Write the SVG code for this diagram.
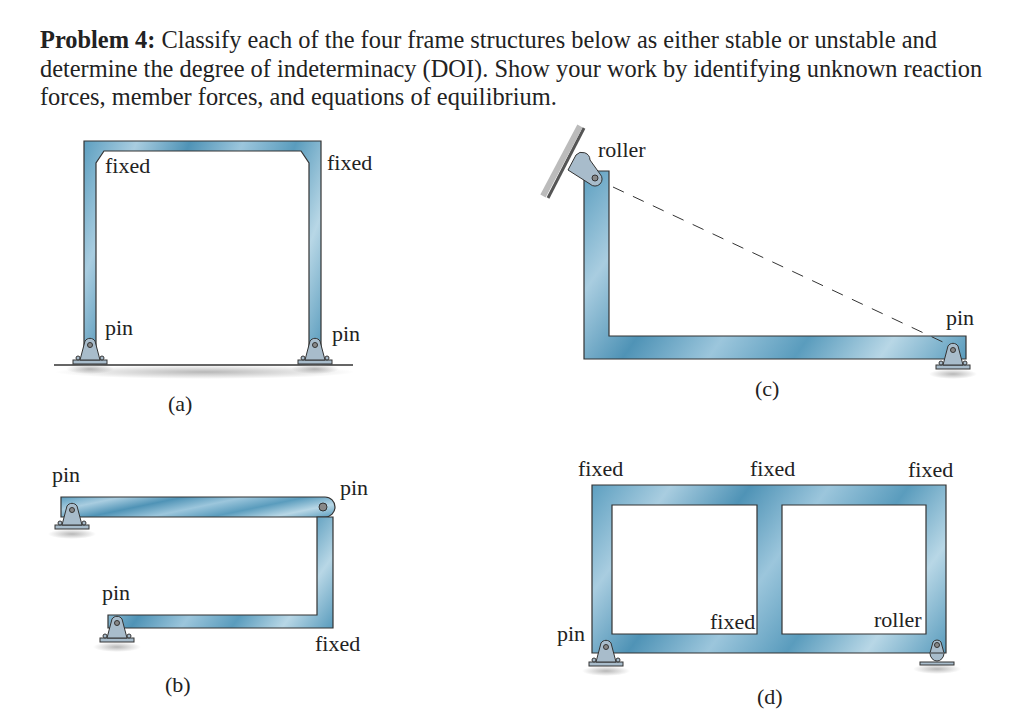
<svg xmlns="http://www.w3.org/2000/svg" width="1024" height="723" viewBox="0 0 1024 723">
<style>
text{font-family:"Liberation Serif","Times New Roman",serif;fill:#222}
.t{font-size:24.4px}
.l{font-size:22px}
.m{fill:url(#steel);stroke:#333;stroke-width:1.2}
.sup{fill:#a8bccb;stroke:#333;stroke-width:1}
</style>
<defs>
<linearGradient id="steel" x1="0" y1="0" x2="1" y2="0.35" spreadMethod="reflect">
<stop offset="0" stop-color="#5d9fc0"/><stop offset="0.2" stop-color="#a9cde0"/><stop offset="0.4" stop-color="#4f93b6"/><stop offset="0.6" stop-color="#9cc6dc"/><stop offset="0.8" stop-color="#5a9cbd"/><stop offset="1" stop-color="#b8d7e6"/>
</linearGradient>
<radialGradient id="sh"><stop offset="0" stop-color="#999" stop-opacity="0.7"/><stop offset="1" stop-color="#999" stop-opacity="0"/></radialGradient>
<g id="pin">
<ellipse cx="0" cy="24" rx="24" ry="5" fill="url(#sh)"/>
<rect x="-17" y="15" width="34" height="4" class="sup"/>
<circle cx="-12" cy="13" r="2" class="sup"/><circle cx="12" cy="13" r="2" class="sup"/>
<path d="M-5,-4 A6,6 0 0 1 5,-4 L10,15 L-10,15 Z" class="sup"/>
<circle cx="0" cy="0" r="2.5" fill="#888" stroke="#333"/>
</g>
<g id="roll">
<ellipse cx="0" cy="24" rx="24" ry="5" fill="url(#sh)"/>
<rect x="-17" y="17" width="34" height="3" class="sup"/>
<path d="M-4,-3 A5,5 0 0 1 4,-3 L7,8 A7,8 0 0 1 -7,8 Z" class="sup"/>
<line x1="-6" y1="8" x2="6" y2="8" stroke="#333"/>
<circle cx="0" cy="0" r="2.5" fill="#888" stroke="#333"/>
</g>
</defs>
<g id="title">
<text x="40" y="48" class="t"><tspan font-weight="bold">Problem 4:</tspan> Classify each of the four frame structures below as either stable or unstable and</text>
<text x="40" y="77" class="t">determine the degree of indeterminacy (DOI). Show your work by identifying unknown reaction</text>
<text x="40" y="105" class="t">forces, member forces, and equations of equilibrium.</text>
</g>
<g id="frame-a">
<ellipse cx="205" cy="372" rx="150" ry="7" fill="url(#sh)"/>
<path class="m" d="M84,141 H321 V353 H309 V163 L301,151 H104 L96,163 V353 H84 Z"/>
<line x1="54" y1="365" x2="353" y2="365" stroke="#333" stroke-width="1.5"/>
<use href="#pin" x="90" y="345"/>
<use href="#pin" x="315" y="345"/>
<text x="105" y="173" class="l">fixed</text><text x="327" y="170" class="l">fixed</text>
<text x="105" y="335" class="l">pin</text><text x="332" y="341" class="l">pin</text>
<text x="168" y="411" class="l">(a)</text>
</g>
<g id="frame-c">
<path d="M548,198 L584,128" stroke="#555" stroke-width="3"/>
<path d="M543,196 L580,126" stroke="#bbb" stroke-width="6"/>
<path class="m" d="M584,171 H609 V336 H966 V359 H584 Z"/>
<path d="M568,170 L576,155 A8,8 0 0 1 590,160 L600,174 A6,6 0 0 1 590,184 Z" class="sup"/>
<circle cx="595" cy="178" r="3" fill="#888" stroke="#333"/>
<line x1="613" y1="187" x2="945" y2="343" stroke="#333" stroke-dasharray="12,10"/>
<use href="#pin" x="953" y="350"/>
<text x="598" y="157" class="l">roller</text>
<text x="946" y="325" class="l">pin</text>
<text x="755" y="396" class="l">(c)</text>
</g>
<g id="frame-b">
<path class="m" d="M61,497 H325 A10,10 0 0 1 325,517 H61 Z"/>
<path class="m" d="M317,517 H333 V628 H108 V615 H317 Z"/>
<circle cx="323" cy="507" r="4" fill="#888" stroke="#333"/>
<use href="#pin" x="72" y="510"/>
<use href="#pin" x="117" y="623"/>
<text x="52" y="482" class="l">pin</text><text x="340" y="495" class="l">pin</text>
<text x="102" y="600" class="l">pin</text><text x="315" y="651" class="l">fixed</text>
<text x="165" y="692" class="l">(b)</text>
</g>
<g id="frame-d">
<path class="m" fill-rule="evenodd" d="M592,485 H946 V653 H592 Z M612,505 V634 H757 V505 Z M782,505 V634 H926 V505 Z"/>
<use href="#pin" x="606" y="647"/>
<use href="#roll" x="937" y="645"/>
<text x="578" y="476" class="l">fixed</text><text x="750" y="476" class="l">fixed</text><text x="908" y="477" class="l">fixed</text>
<text x="710" y="629" class="l">fixed</text><text x="874" y="627" class="l">roller</text>
<text x="557" y="641" class="l">pin</text>
<text x="757" y="704" class="l">(d)</text>
</g>
</svg>
